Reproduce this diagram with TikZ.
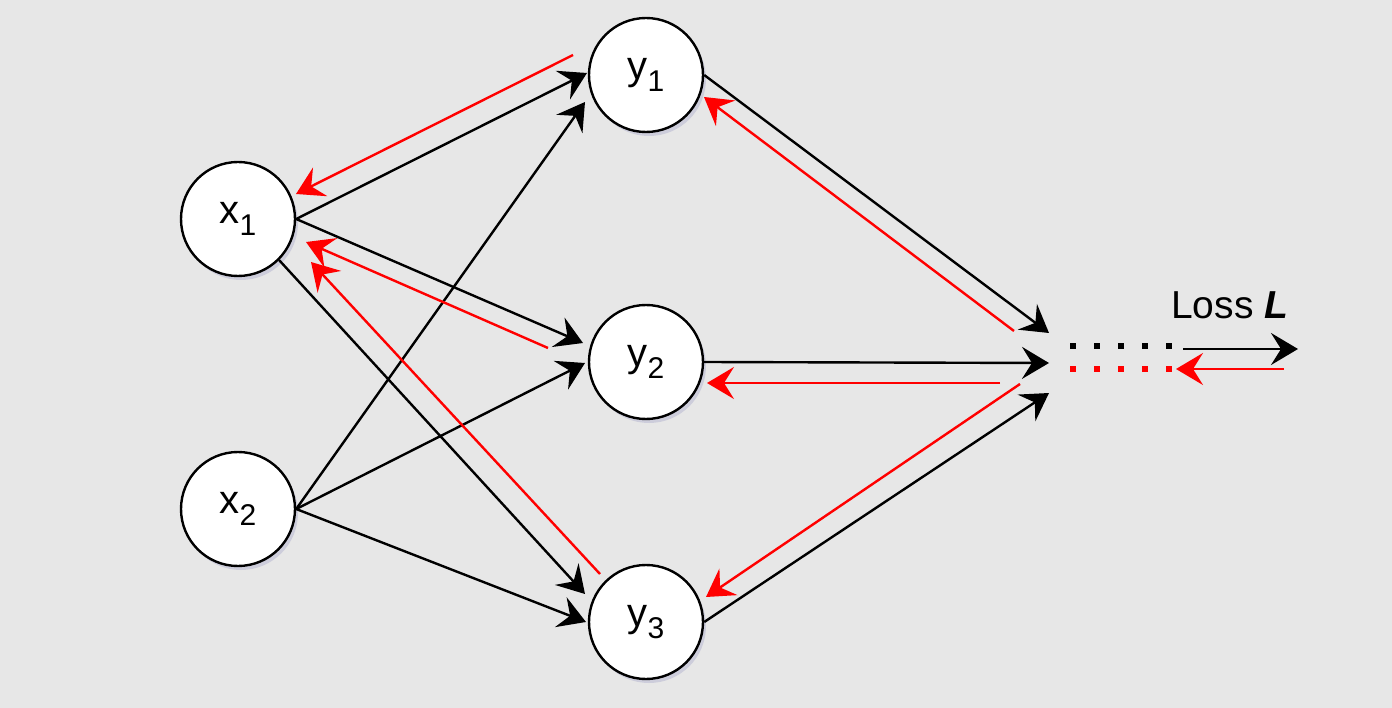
\documentclass[tikz,border=0pt]{standalone}
\usepackage{fontspec}
\setmainfont{Liberation Sans}
\usetikzlibrary{arrows.meta,shadows}
\definecolor{bg}{RGB}{231,231,231}
\definecolor{lred}{RGB}{255,0,0}
\newcommand\mysub[1]{\raisebox{-0.32em}{\fontsize{30}{31}\selectfont #1}}
\begin{document}
\begin{tikzpicture}[x=1pt,y=-1pt,
  neuron/.style={circle,draw=black,line width=2.4pt,fill=white,minimum size=114pt,inner sep=0pt,
    font=\fontsize{40}{42}\selectfont,
    drop shadow={opacity=0.18,fill=blue!30!gray,shadow xshift=3pt,shadow yshift=-4pt}},
  tipst/.style={-{Stealth[length=27pt,width=32pt,inset=10pt]}},
  fwd/.style={draw=black,line width=2.4pt,tipst},
  bwd/.style={draw=lred,line width=2.4pt,tipst},
  dotline/.style={line width=6pt,dash pattern=on 6pt off 18pt},
]
\useasboundingbox (0,0) rectangle (1392,708);
\fill[bg] (0,0) rectangle (1392,708);

% neurons
\node[neuron] (x1) at (238,219) {x\mysub{1}};
\node[neuron] (x2) at (238,509) {x\mysub{2}};
\node[neuron] (y1) at (646,75) {y\mysub{1}};
\node[neuron] (y2) at (646,362) {y\mysub{2}};
\node[neuron] (y3) at (646,622) {y\mysub{3}};

% free ends
\coordinate (b1e) at (587,73);
\coordinate (b2e) at (583,343);
\coordinate (b3e) at (585,594);
\coordinate (b4e) at (585,102);
\coordinate (b5e) at (585,363);
\coordinate (b6e) at (586,622);
\coordinate (b7e) at (1049,333);
\coordinate (b8e) at (1049,363);
\coordinate (b9e) at (1049,393);

\coordinate (r1s) at (573,55);   \coordinate (r1e) at (296,194);
\coordinate (r2s) at (548,348);  \coordinate (r2e) at (306,242);
\coordinate (r3s) at (600,574);  \coordinate (r3e) at (311,262);
\coordinate (r4s) at (1014,331); \coordinate (r4e) at (704,97);
\coordinate (r5s) at (1000,383); \coordinate (r5e) at (707,383);
\coordinate (r6s) at (1020,384); \coordinate (r6e) at (706,597);

\coordinate (kd1) at (1070,346); \coordinate (kd2) at (1172,346);
\coordinate (rd1) at (1070,369); \coordinate (rd2) at (1172,369);
\coordinate (la1) at (1183,349); \coordinate (la2) at (1298,349);
\coordinate (lr1) at (1284,369); \coordinate (lr2) at (1176,369);

% forward (black)
\draw[fwd] (x1.east) -- (b1e);
\draw[fwd] (x1.east) -- (b2e);
\draw[fwd] (x1.-45) -- (b3e);
\draw[fwd] (x2.east) -- (b4e);
\draw[fwd] (x2.east) -- (b5e);
\draw[fwd] (x2.east) -- (b6e);
\draw[fwd] (y1.east) -- (b7e);
\draw[fwd] (y2.east) -- (b8e);
\draw[fwd] (y3.east) -- (b9e);

% backward (red)
\draw[bwd] (r1s) -- (r1e);
\draw[bwd] (r2s) -- (r2e);
\draw[bwd] (r3s) -- (r3e);
\draw[bwd] (r4s) -- (r4e);
\draw[bwd] (r5s) -- (r5e);
\draw[bwd] (r6s) -- (r6e);

% dotted continuation
\draw[dotline,black] (kd1) -- (kd2);
\draw[dotline,lred] (rd1) -- (rd2);

% loss arrows
\draw[fwd] (la1) -- (la2);
\draw[bwd] (lr1) -- (lr2);

\node[anchor=base west,inner sep=0pt,font=\fontsize{39}{41}\selectfont] (loss) at (1171,319) {Loss \textbf{\textit{L}}};
\end{tikzpicture}
\end{document}
